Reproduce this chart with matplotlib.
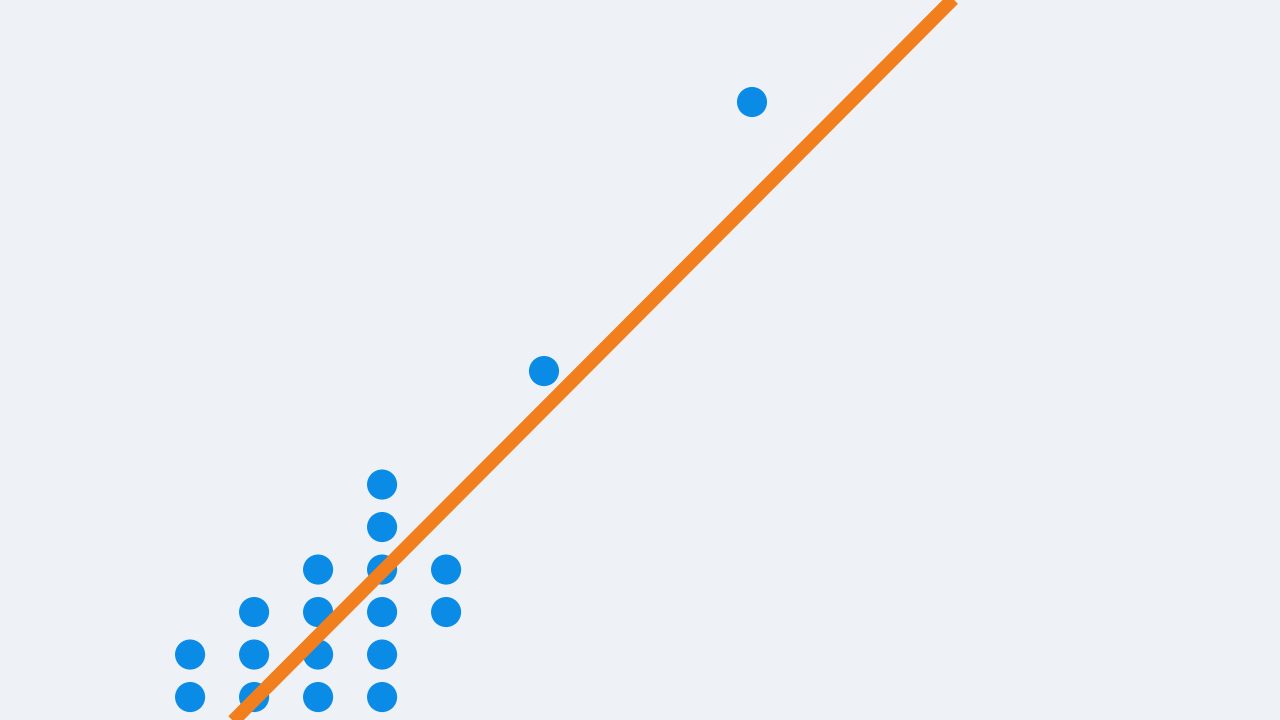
import numpy as np
import matplotlib.pyplot as plt

# 散点数据
xs = [1, 1, 2, 2, 2, 3, 3, 3, 3, 4, 4, 4, 4, 4, 4, 5, 5, 6.53, 9.78]
ys = [1, 2, 1, 2, 3, 1, 2, 3, 4, 1, 2, 3, 4, 5, 6, 3, 4, 8.67, 15.0]

# 拟合线参数
fit_slope = 1.51
fit_intercept = -2.09

fig = plt.figure(figsize=(12.8, 7.2), dpi=100)
fig.patch.set_facecolor('#eef2f6')
ax = fig.add_axes([0, 0, 1, 1])
ax.set_facecolor('#eef2f6')

ax.set_xlim(-1.97, 18.03)
ax.set_ylim(0.46, 17.4)

line_x = np.array(ax.get_xlim())
ax.plot(line_x, fit_slope * line_x + fit_intercept, color='#f27f1d', linewidth=9.8,
        solid_capstyle='butt', zorder=3)
ax.scatter(xs, ys, s=470, color='#0a8ce6', edgecolors='none', zorder=2)

ax.axis('off')
plt.savefig('out.png', dpi=100, facecolor=fig.get_facecolor())
